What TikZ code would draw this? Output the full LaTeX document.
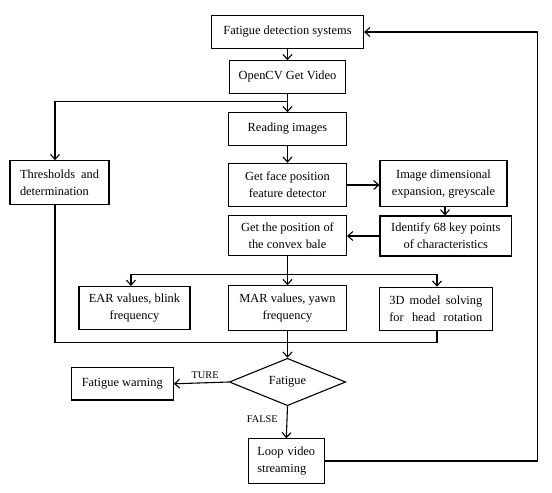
\documentclass[tikz,border=0pt]{standalone}
\usepackage{fontspec}
\setmainfont{Liberation Serif}
\usetikzlibrary{arrows.meta,shapes.geometric}
\def\midx{287.5}

\begin{document}
\begin{tikzpicture}[x=1pt,y=-1pt,->,>={Straight Barb[length=5pt,width=9pt]},line width=1.1pt]
    \tikzstyle{box}=[draw,rectangle,inner sep=0pt,align=center,font=\fontsize{12.4}{17}\selectfont]
    \tikzstyle{decision}=[box,diamond,aspect=2.45]
    \tikzstyle{tag}=[font=\fontsize{10.3}{12}\selectfont]
    \useasboundingbox (0,0) rectangle (552,493);

    % Main column
    \node[box,minimum width=152,minimum height=32.6] (sys) at (\midx,32) {Fatigue detection systems};
    \node[box,minimum width=116.7,minimum height=32.3] (video) at (\midx,77) {OpenCV Get Video};
    \node[box,minimum width=117.7,minimum height=32.3] (read) at (\midx,129) {Reading images};
    \node[box,minimum width=118,minimum height=43.4] (face) at (\midx,185) {Get face position\\feature detector};
    \node[box,minimum width=118,minimum height=40] (hull) at (\midx,235.7) {Get the position of\\the convex bale};

    % Right column
    \node[box,minimum width=127,minimum height=46] (expand) at (443.5,183.7) {Image dimensional\\expansion, greyscale};
    \node[box,minimum width=131.7,minimum height=40] (points) at (445.8,236) {Identify 68 key points\\of characteristics};

    % Left branch
    \node[box,minimum width=99,minimum height=43.6,text width=79,align=left] (thresh) at (59.5,182.5) {Thresholds\hfill and\\determination};

    % Feature values
    \node[box,minimum width=111,minimum height=43] (ear) at (134.5,308) {EAR values, blink\\frequency};
    \node[box,minimum width=118,minimum height=45] (mar) at (\midx,308.3) {MAR values, yawn\\frequency};
    \node[box,minimum width=113,minimum height=43,text width=93,align=left] (head) at (435.8,308.8) {3D\hfill model\hfill solving\\for\hfill head\hfill rotation};

    % Decision and outputs
    \node[decision,minimum width=116.4,minimum height=47.4] (judge) at (\midx,382) {Fatigue};
    \node[box,minimum width=102,minimum height=32.3] (warn) at (122.3,383.8) {Fatigue warning};
    \node[box,minimum width=76,minimum height=44.3,text width=58,align=left] (loop) at (286.3,461) {Loop video\\streaming};

    \coordinate (fork) at (\midx,274.3);
    \coordinate (join) at (\midx,342.3);
    \coordinate (back) at (537.7,458.3);

    % Connect the main column
    \draw (sys) -- (video);
    \draw (video) -- (read);
    \draw (video.south) ++(0,7.7) -| ([xshift=-4.5]thresh.north);
    \draw (read) -- (face);
    \draw (face.east) -- (face.east -| expand.west);
    \draw ([xshift=1.5]expand.south) -- ([xshift=-0.8]points.north);
    \draw (points.west) -- (points.west -| hull.east);

    % Split to the three feature boxes
    \draw[-] (hull) -- (fork);
    \draw (fork) -| ([xshift=-3.5]ear.north);
    \draw (fork) -- (mar);
    \draw (fork) -| ([xshift=1.2]head.north);

    % Merge into the decision
    \draw[-] ([xshift=-4.5]thresh.south) |- (join) -| ([xshift=1.2]head.south);
    \draw (mar) -- (judge);
    \draw (judge.west) -- node[tag,above,pos=0.43] {TURE} (warn.east);
    \draw (judge.south) -- node[tag,left=5.5pt,pos=0.39] {FALSE} (loop.north);

    % Loop back to the top
    \draw (loop.east) -- (loop.east -| back) |- (sys.east);
\end{tikzpicture}
\end{document}
